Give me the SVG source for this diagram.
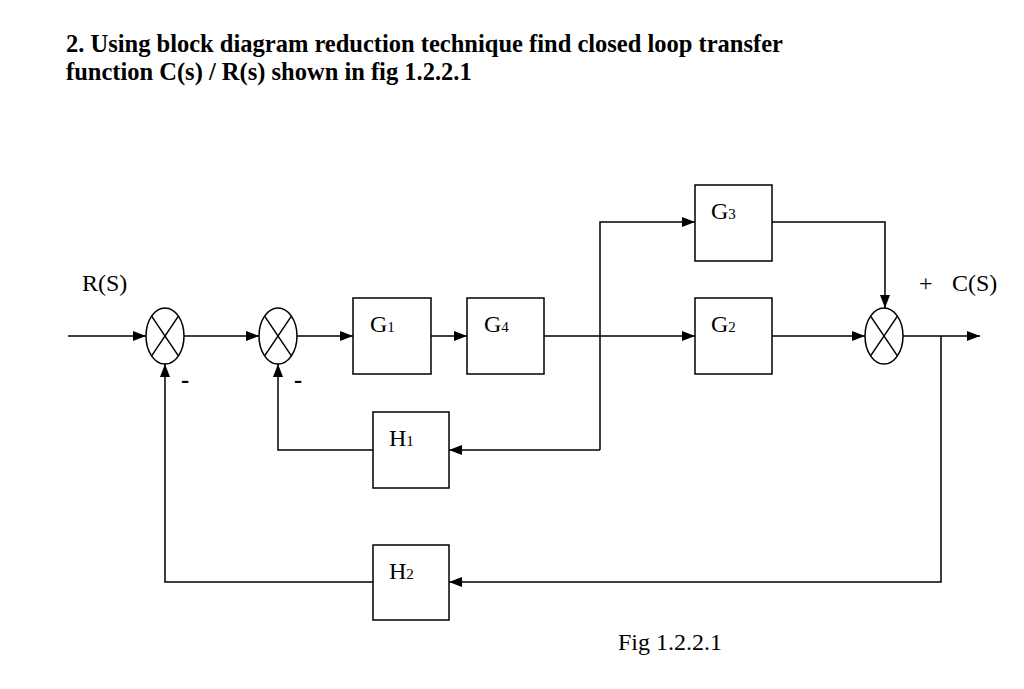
<svg xmlns="http://www.w3.org/2000/svg" width="1024" height="689" viewBox="0 0 1024 689">
<style>
.b{fill:#fff;stroke:#000;stroke-width:1.5}
.l{fill:none;stroke:#000;stroke-width:1.5}
.t{font-family:"Liberation Serif",serif;font-size:24px;fill:#000}
.h{font-family:"Liberation Serif",serif;font-size:24.5px;font-weight:bold;fill:#000}
</style>
<defs><marker id="a" markerWidth="13" markerHeight="10" refX="13" refY="5" orient="auto" markerUnits="userSpaceOnUse"><path d="M0,0L13,5L0,10z" fill="#000"/></marker></defs>
<rect width="1024" height="689" fill="#fff"/>
<text class="h" x="66" y="52">2. Using block diagram reduction technique find closed loop transfer</text>
<text class="h" x="66" y="80">function C(s) / R(s) shown in fig 1.2.2.1</text>
<g id="connectors">
<path class="l" marker-end="url(#a)" d="M68,336H146"/>
<path class="l" marker-end="url(#a)" d="M184,336H259"/>
<path class="l" marker-end="url(#a)" d="M297,336H353"/>
<path class="l" marker-end="url(#a)" d="M431,336H467"/>
<path class="l" marker-end="url(#a)" d="M544,336H695"/>
<path class="l" marker-end="url(#a)" d="M772,336H865"/>
<path class="l" marker-end="url(#a)" d="M903,336H980"/>
<path class="l" marker-end="url(#a)" d="M600,450V222H695"/>
<path class="l" marker-end="url(#a)" d="M772,222H885V308"/>
<path class="l" marker-end="url(#a)" d="M600,450H449"/>
<path class="l" marker-end="url(#a)" d="M373,450H278V364"/>
<path class="l" marker-end="url(#a)" d="M941,336V582H449"/>
<path class="l" marker-end="url(#a)" d="M373,582H165V364"/>
</g>
<g id="sum1"><ellipse class="b" cx="165" cy="336" rx="19" ry="28"/><path class="l" d="M151.6,316.2L178.4,355.8M178.4,316.2L151.6,355.8"/></g>
<g id="sum2"><ellipse class="b" cx="278" cy="336" rx="19" ry="28"/><path class="l" d="M264.6,316.2L291.4,355.8M291.4,316.2L264.6,355.8"/></g>
<g id="sum3"><ellipse class="b" cx="884" cy="336" rx="19" ry="28"/><path class="l" d="M870.6,316.2L897.4,355.8M897.4,316.2L870.6,355.8"/></g>
<g id="G1"><rect class="b" x="353" y="298" width="78" height="76"/><text class="t" x="370" y="332">G<tspan font-size="15">1</tspan></text></g>
<g id="G4"><rect class="b" x="467" y="298" width="77" height="76"/><text class="t" x="484" y="332">G<tspan font-size="15">4</tspan></text></g>
<g id="G3"><rect class="b" x="695" y="185" width="77" height="76"/><text class="t" x="711" y="219">G<tspan font-size="15">3</tspan></text></g>
<g id="G2"><rect class="b" x="695" y="298" width="77" height="76"/><text class="t" x="711" y="332">G<tspan font-size="15">2</tspan></text></g>
<g id="H1"><rect class="b" x="373" y="412" width="76" height="76"/><text class="t" x="389" y="446">H<tspan font-size="15">1</tspan></text></g>
<g id="H2"><rect class="b" x="373" y="545" width="76" height="75"/><text class="t" x="389" y="579">H<tspan font-size="15">2</tspan></text></g>
<text class="t" x="82" y="291">R(S)</text>
<text class="t" x="919" y="291">+</text>
<text class="t" x="952" y="291">C(S)</text>
<text class="h" x="181" y="388">-</text>
<text class="h" x="294" y="388">-</text>
<text class="t" x="618" y="650">Fig 1.2.2.1</text>
</svg>
